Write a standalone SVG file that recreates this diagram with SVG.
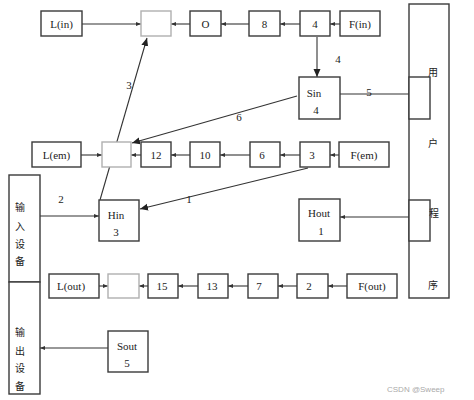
<svg xmlns="http://www.w3.org/2000/svg" width="474" height="400" viewBox="0 0 474 400">
<defs>
<marker id="s" markerUnits="userSpaceOnUse" markerWidth="6" markerHeight="6" refX="5" refY="3" orient="auto"><path d="M0,1 L5,3 L0,5 Z" fill="#333"/></marker>
<marker id="b" markerUnits="userSpaceOnUse" markerWidth="9" markerHeight="9" refX="8" refY="4.5" orient="auto"><path d="M0,1 L8,4.5 L0,8 Z" fill="#222"/></marker>
</defs>
<style>
.bx{fill:#fff;stroke:#3a3a3a;stroke-width:1.4}
.em{fill:#fff;stroke:#b0b0b0;stroke-width:1.4}
.t{font-family:"Liberation Serif",serif;font-size:11px;fill:#222;text-anchor:middle}
.c{font-family:"Noto Sans CJK SC","Liberation Serif",serif;font-size:10px;fill:#222;text-anchor:middle}
.ln{stroke:#333;stroke-width:1.1;fill:none}
.wm{font-family:"Liberation Sans",sans-serif;font-size:8px;fill:#aaa}
</style>
<g id="connectors">
<line class="ln" x1="82" y1="24" x2="141" y2="24" marker-end="url(#s)"/>
<line class="ln" x1="190" y1="24" x2="171" y2="24" marker-end="url(#s)"/>
<line class="ln" x1="249" y1="24" x2="221" y2="24" marker-end="url(#s)"/>
<line class="ln" x1="300" y1="24" x2="280" y2="24" marker-end="url(#s)"/>
<line class="ln" x1="340" y1="24" x2="330" y2="24" marker-end="url(#s)"/>
<line class="ln" x1="317" y1="37" x2="317" y2="77" marker-end="url(#b)"/>
<text class="t" x="338" y="63">4</text>
<line class="ln" x1="340" y1="94" x2="420" y2="94" marker-end="url(#s)"/>
<text class="t" x="369" y="96">5</text>
<line class="ln" x1="297" y1="96" x2="132" y2="143" marker-end="url(#b)"/>
<text class="t" x="239" y="121">6</text>
<line class="ln" x1="81" y1="155" x2="102" y2="155" marker-end="url(#s)"/>
<line class="ln" x1="141" y1="155" x2="131" y2="155" marker-end="url(#s)"/>
<line class="ln" x1="190" y1="155" x2="171" y2="155" marker-end="url(#s)"/>
<line class="ln" x1="250" y1="155" x2="220" y2="155" marker-end="url(#s)"/>
<line class="ln" x1="300" y1="155" x2="280" y2="155" marker-end="url(#s)"/>
<line class="ln" x1="339" y1="155" x2="330" y2="155" marker-end="url(#s)"/>
<line class="ln" x1="308" y1="168" x2="140" y2="209" marker-end="url(#b)"/>
<text class="t" x="189" y="203">1</text>
<line class="ln" x1="100" y1="200" x2="147" y2="38" marker-end="url(#b)"/>
<text class="t" x="129" y="89">3</text>
<line class="ln" x1="40" y1="216" x2="99" y2="216" marker-end="url(#s)"/>
<text class="t" x="61" y="203">2</text>
<line class="ln" x1="421" y1="217" x2="340" y2="217" marker-end="url(#s)"/>
<line class="ln" x1="99" y1="286" x2="108" y2="286" marker-end="url(#s)"/>
<line class="ln" x1="148" y1="286" x2="139" y2="286" marker-end="url(#s)"/>
<line class="ln" x1="198" y1="286" x2="178" y2="286" marker-end="url(#s)"/>
<line class="ln" x1="248" y1="286" x2="228" y2="286" marker-end="url(#s)"/>
<line class="ln" x1="297" y1="286" x2="278" y2="286" marker-end="url(#s)"/>
<line class="ln" x1="347" y1="286" x2="328" y2="286" marker-end="url(#s)"/>
<line class="ln" x1="108" y1="348" x2="40" y2="348" marker-end="url(#s)"/>
</g>
<g id="user-program">
<rect class="bx" x="409" y="4" width="40" height="294"/>
<rect class="bx" x="409" y="77" width="21" height="42"/>
<rect class="bx" x="409" y="200" width="21" height="41"/>
<text class="c" x="433" y="76">用</text>
<text class="c" x="433" y="147">户</text>
<text class="c" x="434" y="217">程</text>
<text class="c" x="433" y="289">序</text>
</g>
<g id="L-in"><rect class="bx" x="41" y="11" width="41" height="25"/><text class="t" x="61.5" y="28">L(in)</text></g>
<g id="in-buf"><rect class="em" x="141" y="11" width="30" height="25"/></g>
<g id="in-0"><rect class="bx" x="190" y="11" width="31" height="25"/><text class="t" x="205.5" y="28">O</text></g>
<g id="in-8"><rect class="bx" x="249" y="11" width="31" height="25"/><text class="t" x="264.5" y="28">8</text></g>
<g id="in-4"><rect class="bx" x="300" y="11" width="30" height="25"/><text class="t" x="315" y="28">4</text></g>
<g id="F-in"><rect class="bx" x="340" y="11" width="40" height="25"/><text class="t" x="360" y="28">F(in)</text></g>
<g id="Sin"><rect class="bx" x="299" y="77" width="41" height="42"/><text class="t" x="314" y="97">Sin</text><text class="t" x="316" y="114">4</text></g>
<g id="L-em"><rect class="bx" x="32" y="142" width="49" height="25"/><text class="t" x="56.5" y="159">L(em)</text></g>
<g id="em-buf"><rect class="em" x="102" y="142" width="29" height="25"/></g>
<g id="em-12"><rect class="bx" x="141" y="142" width="30" height="25"/><text class="t" x="156" y="159">12</text></g>
<g id="em-10"><rect class="bx" x="190" y="142" width="30" height="25"/><text class="t" x="205" y="159">10</text></g>
<g id="em-6"><rect class="bx" x="250" y="142" width="30" height="25"/><text class="t" x="262" y="159">6</text></g>
<g id="em-3"><rect class="bx" x="300" y="142" width="30" height="25"/><text class="t" x="312" y="159">3</text></g>
<g id="F-em"><rect class="bx" x="339" y="142" width="50" height="25"/><text class="t" x="364" y="159">F(em)</text></g>
<g id="input-dev"><rect class="bx" x="9" y="175" width="31" height="107"/>
<text class="c" x="20" y="211">输</text><text class="c" x="20" y="230">入</text><text class="c" x="20" y="248">设</text><text class="c" x="20" y="265">备</text></g>
<g id="output-dev"><rect class="bx" x="9" y="282" width="31" height="112"/>
<text class="c" x="20" y="336">输</text><text class="c" x="20" y="355">出</text><text class="c" x="20" y="372">设</text><text class="c" x="20" y="390">备</text></g>
<g id="Hin"><rect class="bx" x="99" y="200" width="40" height="41"/><text class="t" x="116" y="219">Hin</text><text class="t" x="116" y="236">3</text></g>
<g id="Hout"><rect class="bx" x="299" y="199" width="41" height="42"/><text class="t" x="319" y="217">Hout</text><text class="t" x="321" y="235">1</text></g>
<g id="L-out"><rect class="bx" x="49" y="274" width="50" height="24"/><text class="t" x="71" y="290">L(out)</text></g>
<g id="out-buf"><rect class="em" x="108" y="274" width="31" height="24"/></g>
<g id="out-15"><rect class="bx" x="148" y="274" width="30" height="24"/><text class="t" x="162" y="290">15</text></g>
<g id="out-13"><rect class="bx" x="198" y="274" width="30" height="24"/><text class="t" x="212" y="290">13</text></g>
<g id="out-7"><rect class="bx" x="248" y="274" width="30" height="24"/><text class="t" x="259" y="290">7</text></g>
<g id="out-2"><rect class="bx" x="297" y="274" width="31" height="24"/><text class="t" x="309" y="290">2</text></g>
<g id="F-out"><rect class="bx" x="347" y="274" width="50" height="24"/><text class="t" x="372" y="290">F(out)</text></g>
<g id="Sout"><rect class="bx" x="108" y="331" width="40" height="41"/><text class="t" x="127" y="350">Sout</text><text class="t" x="127" y="367">5</text></g>
<text class="wm" x="387" y="392">CSDN @Sweep</text>
</svg>
